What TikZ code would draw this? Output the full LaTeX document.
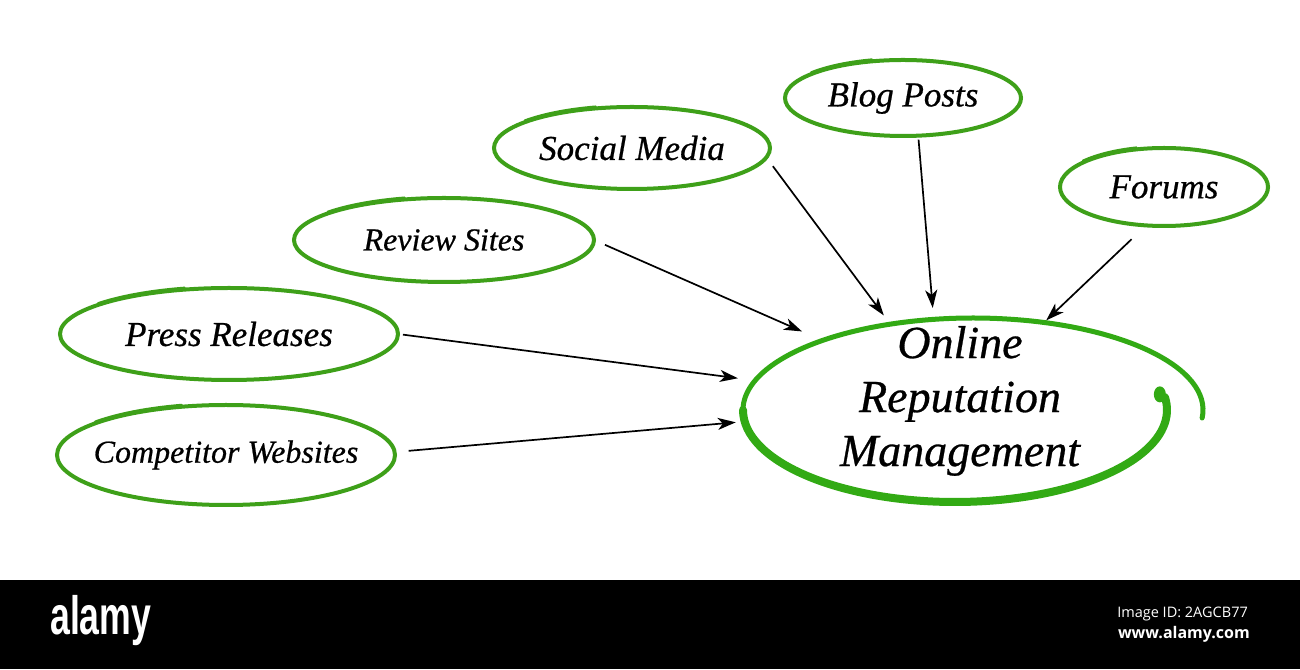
\documentclass[tikz,border=0pt]{standalone}
\usepackage{fontspec}
\setmainfont{Liberation Serif}[ItalicFeatures={FakeBold=0.6}]
\newfontfamily\osans{Open Sans}
\newfontfamily\lsans{Liberation Sans}
\usetikzlibrary{arrows.meta,shapes.geometric}
\definecolor{brush}{RGB}{62,160,25}
\definecolor{brushmain}{RGB}{50,170,20}
\tikzset{
  bub/.style={ellipse, draw=brush, line width=4pt, inner sep=0pt, outer sep=0pt},
  lbl/.style={font=\fontsize{35}{40}\selectfont\itshape, text=black, inner sep=0pt},
  lblsm/.style={font=\fontsize{32}{38}\selectfont\itshape, text=black, inner sep=0pt},
  conn/.style={line width=1.7pt, black, -{Stealth[length=18pt,width=12pt,inset=5pt]}},
  tailstroke/.style={draw=brush, line width=2pt, line cap=round},
}
\begin{document}
\begin{tikzpicture}[x=1pt,y=1pt]
\useasboundingbox (0,0) rectangle (1300,669);
\fill[white] (0,0) rectangle (1300,669);
\fill[black] (0,0) rectangle (1300,89);

% bubbles
\node[bub, minimum width=236, minimum height=76, label={[lbl]center:Blog Posts}] (bp) at (903,571) {};
\node[bub, minimum width=276, minimum height=82, label={[lbl]center:Social Media}] (sm) at (632,521) {};
\node[bub, minimum width=208, minimum height=78, label={[lbl]center:Forums}] (fo) at (1164,482) {};
\node[bub, minimum width=300, minimum height=84, label={[lblsm]center:Review Sites}] (rs) at (444,429) {};
\node[bub, minimum width=338, minimum height=92, label={[lbl]center:Press Releases}] (pr) at (229,335) {};
\node[bub, minimum width=338, minimum height=100, label={[lblsm]center:Competitor Websites}] (cw) at (226,214) {};

% brush tails
\draw[tailstroke] (bp.center) ++(105:120 and 40) arc[start angle=105, end angle=140, x radius=120, y radius=40];
\draw[tailstroke] (sm.center) ++(105:140 and 43) arc[start angle=105, end angle=140, x radius=140, y radius=43];
\draw[tailstroke] (fo.center) ++(105:106 and 41) arc[start angle=105, end angle=140, x radius=106, y radius=41];
\draw[tailstroke] (rs.center) ++(105:152 and 44) arc[start angle=105, end angle=140, x radius=152, y radius=44];
\draw[tailstroke] (pr.center) ++(105:171 and 48) arc[start angle=105, end angle=140, x radius=171, y radius=48];
\draw[tailstroke] (cw.center) ++(105:171 and 52) arc[start angle=105, end angle=140, x radius=171, y radius=52];

% main
\node[ellipse, minimum width=444, minimum height=184, inner sep=0pt, outer sep=0pt] (main) at (965,259) {};
\node[align=center, inner sep=0pt, font=\fontsize{46}{54}\selectfont\itshape] (mainlbl) at (960,268) {Online\\Reputation\\Management};
\draw[draw=brushmain, line width=5pt, line cap=round] ([xshift=8pt]main.center) ++(-5:230 and 92)
  arc[start angle=-5, end angle=180, x radius=230, y radius=92];
\draw[draw=brushmain, line width=8pt, line cap=round] ([xshift=-10pt]main.center) ++(180:212 and 92)
  arc[start angle=180, end angle=368, x radius=212, y radius=92];
\fill[brushmain] ([xshift=-10pt]main.center) ++(370:208 and 90) ellipse[x radius=6, y radius=8];

% connectors
\draw[conn, shorten <=11pt, shorten >=10pt] (sm.-4) -- (main.131);
\draw[conn, shorten <=4pt, shorten >=11pt] (bp.-68) -- (main.109);
\draw[conn, shorten <=20pt, shorten >=5pt] (fo.245) -- (main.48);
\draw[conn, shorten <=12pt, shorten >=21pt] (rs.0) -- (main.154);
\draw[conn, shorten <=5pt, shorten >=17pt] (pr.0) -- (main.172);
\draw[conn, shorten <=14pt, shorten >=9pt] (cw.1) -- (main.183);

% watermark bar
\node[anchor=base west, inner sep=0pt, text=white, font=\lsans\bfseries\fontsize{54}{54}\selectfont] (logo) at (50,35) {\scalebox{0.66}[1]{alamy}};
\node[anchor=base east, inner sep=0pt, text=white, font=\osans\fontsize{14.5}{16}\selectfont] (imgid) at (1248,52) {Image ID: 2AGCB77};
\node[anchor=base east, inner sep=0pt, text=white, font=\osans\bfseries\fontsize{16}{18}\selectfont] (url) at (1250,31) {www.alamy.com};
\end{tikzpicture}
\end{document}
